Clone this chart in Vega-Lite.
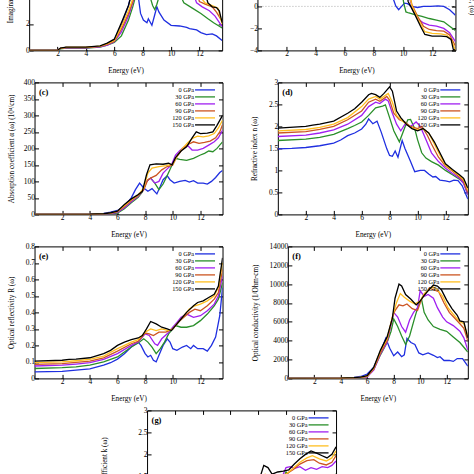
{
  "$schema": "https://vega.github.io/schema/vega-lite/v6.json",
  "background": "white",
  "padding": {"top": -86.6, "left": 4.8, "right": 0, "bottom": 0},
  "datasets": {
    "a": [
      {"s":0,"E":0,"v":0},{"s":0,"E":2,"v":0},{"s":0,"E":2.2,"v":0.15},{"s":0,"E":2.6,"v":0.2},{"s":0,"E":4,"v":0.2},{"s":0,"E":5,"v":0.3},{"s":0,"E":5.5,"v":0.5},{"s":0,"E":6,"v":0.8},{"s":0,"E":6.5,"v":1.9},{"s":0,"E":7,"v":3.4},{"s":0,"E":7.3,"v":4.8},{"s":0,"E":7.5,"v":5.2},{"s":0,"E":7.7,"v":4.0},{"s":0,"E":7.85,"v":2.8},{"s":0,"E":8.05,"v":2.3},{"s":0,"E":8.3,"v":2.1},{"s":0,"E":8.4,"v":2.4},{"s":0,"E":8.65,"v":1.9},{"s":0,"E":8.85,"v":2.7},{"s":0,"E":9.0,"v":3.3},{"s":0,"E":9.15,"v":2.9},{"s":0,"E":9.5,"v":2.3},{"s":0,"E":10,"v":1.9},{"s":0,"E":10.6,"v":1.85},{"s":0,"E":11.1,"v":1.75},{"s":0,"E":11.3,"v":1.65},{"s":0,"E":11.8,"v":1.55},{"s":0,"E":12.1,"v":1.35},{"s":0,"E":12.5,"v":1.2},{"s":0,"E":12.9,"v":1.25},{"s":0,"E":13.2,"v":1.1},{"s":0,"E":13.6,"v":0.75},
      {"s":30,"E":0,"v":0},{"s":30,"E":2,"v":0},{"s":30,"E":2.2,"v":0.12},{"s":30,"E":2.6,"v":0.18},{"s":30,"E":4,"v":0.18},{"s":30,"E":5,"v":0.25},{"s":30,"E":5.5,"v":0.4},{"s":30,"E":6,"v":0.6},{"s":30,"E":6.5,"v":1.1},{"s":30,"E":7,"v":2.3},{"s":30,"E":7.3,"v":3.3},{"s":30,"E":7.6,"v":4.5},{"s":30,"E":8,"v":5.5},{"s":30,"E":8.4,"v":4.5},{"s":30,"E":8.7,"v":3.4},{"s":30,"E":8.85,"v":3.1},{"s":30,"E":9.0,"v":3.5},{"s":30,"E":9.3,"v":4.6},{"s":30,"E":9.8,"v":5.8},{"s":30,"E":10.1,"v":6.0},{"s":30,"E":10.4,"v":4.8},{"s":30,"E":10.9,"v":3.6},{"s":30,"E":11.5,"v":3.2},{"s":30,"E":12.1,"v":2.8},{"s":30,"E":12.6,"v":2.4},{"s":30,"E":13,"v":2.1},{"s":30,"E":13.6,"v":1.7},
      {"s":60,"E":0,"v":0},{"s":60,"E":2,"v":0},{"s":60,"E":2.2,"v":0.15},{"s":60,"E":2.6,"v":0.2},{"s":60,"E":4,"v":0.2},{"s":60,"E":5,"v":0.27},{"s":60,"E":5.5,"v":0.4},{"s":60,"E":6,"v":0.65},{"s":60,"E":6.5,"v":1.4},{"s":60,"E":7,"v":2.6},{"s":60,"E":7.3,"v":3.6},{"s":60,"E":7.7,"v":5},{"s":60,"E":8.1,"v":6.5},{"s":60,"E":8.6,"v":5.5},{"s":60,"E":9,"v":5.2},{"s":60,"E":9.5,"v":6.2},{"s":60,"E":10,"v":7.5},{"s":60,"E":10.5,"v":7.2},{"s":60,"E":11,"v":6.5},{"s":60,"E":11.5,"v":4.5},{"s":60,"E":11.8,"v":3.6},{"s":60,"E":12.2,"v":3.3},{"s":60,"E":12.7,"v":3.0},{"s":60,"E":13.1,"v":2.6},{"s":60,"E":13.6,"v":1.8},
      {"s":90,"E":0,"v":0},{"s":90,"E":2,"v":0},{"s":90,"E":2.2,"v":0.15},{"s":90,"E":2.6,"v":0.22},{"s":90,"E":4,"v":0.22},{"s":90,"E":5,"v":0.3},{"s":90,"E":5.5,"v":0.45},{"s":90,"E":6,"v":0.7},{"s":90,"E":6.5,"v":1.6},{"s":90,"E":7,"v":2.8},{"s":90,"E":7.3,"v":3.7},{"s":90,"E":8,"v":6},{"s":90,"E":8.5,"v":6.8},{"s":90,"E":9,"v":6.5},{"s":90,"E":9.5,"v":6.3},{"s":90,"E":10,"v":7},{"s":90,"E":10.5,"v":7.6},{"s":90,"E":11,"v":7.0},{"s":90,"E":11.5,"v":5.5},{"s":90,"E":12,"v":3.7},{"s":90,"E":12.4,"v":3.5},{"s":90,"E":12.9,"v":3.3},{"s":90,"E":13.2,"v":2.9},{"s":90,"E":13.6,"v":2.2},
      {"s":120,"E":0,"v":0},{"s":120,"E":2,"v":0},{"s":120,"E":2.2,"v":0.16},{"s":120,"E":2.6,"v":0.23},{"s":120,"E":4,"v":0.23},{"s":120,"E":5,"v":0.32},{"s":120,"E":5.5,"v":0.5},{"s":120,"E":6,"v":0.75},{"s":120,"E":6.5,"v":1.8},{"s":120,"E":7,"v":3.0},{"s":120,"E":7.3,"v":3.9},{"s":120,"E":8,"v":6.5},{"s":120,"E":8.5,"v":7.5},{"s":120,"E":9,"v":7.0},{"s":120,"E":9.5,"v":6.5},{"s":120,"E":10,"v":6.8},{"s":120,"E":10.5,"v":7.5},{"s":120,"E":11,"v":7.5},{"s":120,"E":11.5,"v":6.5},{"s":120,"E":12.1,"v":4.0},{"s":120,"E":12.4,"v":3.6},{"s":120,"E":12.9,"v":3.4},{"s":120,"E":13.3,"v":3.2},{"s":120,"E":13.6,"v":2.0},
      {"s":150,"E":0,"v":0},{"s":150,"E":2,"v":0},{"s":150,"E":2.2,"v":0.18},{"s":150,"E":2.6,"v":0.25},{"s":150,"E":4,"v":0.25},{"s":150,"E":5,"v":0.35},{"s":150,"E":5.5,"v":0.55},{"s":150,"E":6,"v":0.85},{"s":150,"E":6.5,"v":2.1},{"s":150,"E":7,"v":3.4},{"s":150,"E":7.2,"v":4.2},{"s":150,"E":8,"v":7},{"s":150,"E":8.4,"v":8.3},{"s":150,"E":9,"v":7.5},{"s":150,"E":9.5,"v":6.8},{"s":150,"E":10,"v":6.8},{"s":150,"E":10.5,"v":7.3},{"s":150,"E":11,"v":7.8},{"s":150,"E":11.5,"v":7.2},{"s":150,"E":12.2,"v":5.0},{"s":150,"E":12.6,"v":3.6},{"s":150,"E":12.9,"v":3.3},{"s":150,"E":13.2,"v":3.25},{"s":150,"E":13.4,"v":3.0},{"s":150,"E":13.6,"v":2.1}
    ],
    "b": [
      {"s":0,"E":0,"v":2.2},{"s":0,"E":3,"v":2.4},{"s":0,"E":5,"v":3.0},{"s":0,"E":6,"v":3.6},{"s":0,"E":6.5,"v":4.4},{"s":0,"E":7,"v":4.0},{"s":0,"E":7.4,"v":3.0},{"s":0,"E":7.8,"v":1.5},{"s":0,"E":8.1,"v":0.9},{"s":0,"E":8.4,"v":1.4},{"s":0,"E":8.7,"v":1.0},{"s":0,"E":9,"v":2.0},{"s":0,"E":9.3,"v":0.8},{"s":0,"E":9.5,"v":0.05},{"s":0,"E":9.7,"v":-0.3},{"s":0,"E":9.9,"v":0},{"s":0,"E":10.1,"v":0.3},{"s":0,"E":10.3,"v":0.25},{"s":0,"E":10.6,"v":0},{"s":0,"E":11,"v":-0.1},{"s":0,"E":11.4,"v":0.0},{"s":0,"E":11.9,"v":0},{"s":0,"E":12.4,"v":0.05},{"s":0,"E":12.8,"v":0},{"s":0,"E":13.2,"v":-0.3},{"s":0,"E":13.6,"v":-0.8},
      {"s":30,"E":0,"v":2.8},{"s":30,"E":3,"v":3.0},{"s":30,"E":5,"v":3.8},{"s":30,"E":6,"v":4.5},{"s":30,"E":7,"v":5.8},{"s":30,"E":7.6,"v":6.2},{"s":30,"E":8,"v":4.5},{"s":30,"E":8.5,"v":2.5},{"s":30,"E":8.8,"v":3.0},{"s":30,"E":9.2,"v":4.6},{"s":30,"E":9.6,"v":4.0},{"s":30,"E":9.9,"v":1.5},{"s":30,"E":10.05,"v":0.3},{"s":30,"E":10.2,"v":-0.5},{"s":30,"E":10.4,"v":-0.6},{"s":30,"E":10.8,"v":-0.75},{"s":30,"E":11.3,"v":-0.9},{"s":30,"E":11.8,"v":-1.1},{"s":30,"E":12.3,"v":-1.25},{"s":30,"E":12.8,"v":-1.4},{"s":30,"E":13.2,"v":-1.8},{"s":30,"E":13.6,"v":-2.2},
      {"s":60,"E":0,"v":3.1},{"s":60,"E":3,"v":3.3},{"s":60,"E":5,"v":4.2},{"s":60,"E":6,"v":5.1},{"s":60,"E":7,"v":6.4},{"s":60,"E":7.7,"v":6.8},{"s":60,"E":8.2,"v":5.0},{"s":60,"E":8.8,"v":3.4},{"s":60,"E":9.3,"v":3.8},{"s":60,"E":9.9,"v":4.2},{"s":60,"E":10.2,"v":3.0},{"s":60,"E":10.5,"v":0.5},{"s":60,"E":10.7,"v":-0.4},{"s":60,"E":11,"v":-1.1},{"s":60,"E":11.4,"v":-1.5},{"s":60,"E":11.8,"v":-1.7},{"s":60,"E":12.3,"v":-1.8},{"s":60,"E":12.8,"v":-2.0},{"s":60,"E":13.2,"v":-2.4},{"s":60,"E":13.6,"v":-3.2},
      {"s":90,"E":0,"v":3.4},{"s":90,"E":3,"v":3.6},{"s":90,"E":5,"v":4.6},{"s":90,"E":6,"v":5.5},{"s":90,"E":7,"v":6.9},{"s":90,"E":7.8,"v":7.2},{"s":90,"E":8.3,"v":5.5},{"s":90,"E":8.8,"v":4.5},{"s":90,"E":9.5,"v":4.0},{"s":90,"E":10.2,"v":3.6},{"s":90,"E":10.4,"v":1.5},{"s":90,"E":10.6,"v":0.2},{"s":90,"E":11.0,"v":-0.9},{"s":90,"E":11.4,"v":-1.8},{"s":90,"E":11.8,"v":-2.1},{"s":90,"E":12.3,"v":-2.2},{"s":90,"E":12.8,"v":-2.25},{"s":90,"E":13.2,"v":-2.6},{"s":90,"E":13.6,"v":-3.6},
      {"s":120,"E":0,"v":3.6},{"s":120,"E":3,"v":3.8},{"s":120,"E":5,"v":4.9},{"s":120,"E":6,"v":6.0},{"s":120,"E":7,"v":7.2},{"s":120,"E":7.9,"v":7.6},{"s":120,"E":8.4,"v":5.5},{"s":120,"E":9,"v":4.4},{"s":120,"E":9.6,"v":3.9},{"s":120,"E":10.2,"v":3.6},{"s":120,"E":10.4,"v":1.4},{"s":120,"E":10.6,"v":0.1},{"s":120,"E":11.0,"v":-1.1},{"s":120,"E":11.5,"v":-2.3},{"s":120,"E":12,"v":-2.45},{"s":120,"E":12.6,"v":-2.5},{"s":120,"E":13.0,"v":-2.6},{"s":120,"E":13.3,"v":-3.0},{"s":120,"E":13.6,"v":-4.0},
      {"s":150,"E":0,"v":3.85},{"s":150,"E":3,"v":4.1},{"s":150,"E":5,"v":5.3},{"s":150,"E":6,"v":6.5},{"s":150,"E":6.7,"v":7.5},{"s":150,"E":7.2,"v":7.2},{"s":150,"E":8,"v":8.0},{"s":150,"E":8.5,"v":5.5},{"s":150,"E":9,"v":4.8},{"s":150,"E":9.6,"v":3.8},{"s":150,"E":10.1,"v":3.2},{"s":150,"E":10.35,"v":0.45},{"s":150,"E":10.8,"v":-0.7},{"s":150,"E":11.2,"v":-1.8},{"s":150,"E":11.5,"v":-2.55},{"s":150,"E":12.0,"v":-2.7},{"s":150,"E":12.6,"v":-2.7},{"s":150,"E":13.0,"v":-2.75},{"s":150,"E":13.3,"v":-3.0},{"s":150,"E":13.45,"v":-3.9},{"s":150,"E":13.6,"v":-4.0}
    ],
    "c": [
      {"s":0,"E":0,"v":0},{"s":0,"E":4,"v":0.5},{"s":0,"E":5,"v":3},{"s":0,"E":5.5,"v":7},{"s":0,"E":6,"v":12},{"s":0,"E":6.5,"v":25},{"s":0,"E":7,"v":50},{"s":0,"E":7.3,"v":75},{"s":0,"E":7.6,"v":95},{"s":0,"E":7.9,"v":80},{"s":0,"E":8.2,"v":70},{"s":0,"E":8.5,"v":78},{"s":0,"E":8.85,"v":62},{"s":0,"E":9.1,"v":85},{"s":0,"E":9.3,"v":105},{"s":0,"E":9.6,"v":117},{"s":0,"E":9.8,"v":105},{"s":0,"E":10.1,"v":95},{"s":0,"E":10.5,"v":100},{"s":0,"E":10.9,"v":103},{"s":0,"E":11.2,"v":98},{"s":0,"E":11.5,"v":102},{"s":0,"E":11.8,"v":95},{"s":0,"E":12.2,"v":95},{"s":0,"E":12.5,"v":92},{"s":0,"E":12.8,"v":100},{"s":0,"E":13.1,"v":112},{"s":0,"E":13.4,"v":127},{"s":0,"E":13.6,"v":133},
      {"s":30,"E":0,"v":0},{"s":30,"E":4,"v":0.2},{"s":30,"E":5,"v":1},{"s":30,"E":5.5,"v":2},{"s":30,"E":6,"v":4},{"s":30,"E":6.5,"v":17},{"s":30,"E":7,"v":35},{"s":30,"E":7.5,"v":52},{"s":30,"E":7.8,"v":68},{"s":30,"E":8.1,"v":100},{"s":30,"E":8.4,"v":110},{"s":30,"E":8.7,"v":95},{"s":30,"E":9.0,"v":75},{"s":30,"E":9.3,"v":92},{"s":30,"E":9.6,"v":118},{"s":30,"E":9.9,"v":145},{"s":30,"E":10.2,"v":170},{"s":30,"E":10.5,"v":167},{"s":30,"E":11,"v":164},{"s":30,"E":11.5,"v":170},{"s":30,"E":12,"v":180},{"s":30,"E":12.3,"v":185},{"s":30,"E":12.6,"v":192},{"s":30,"E":12.9,"v":190},{"s":30,"E":13.2,"v":200},{"s":30,"E":13.6,"v":220},
      {"s":60,"E":0,"v":0},{"s":60,"E":4,"v":0.2},{"s":60,"E":5,"v":1},{"s":60,"E":5.5,"v":2},{"s":60,"E":6,"v":6},{"s":60,"E":6.5,"v":20},{"s":60,"E":7,"v":38},{"s":60,"E":7.5,"v":55},{"s":60,"E":7.9,"v":75},{"s":60,"E":8.1,"v":100},{"s":60,"E":8.4,"v":110},{"s":60,"E":8.7,"v":95},{"s":60,"E":9.0,"v":100},{"s":60,"E":9.3,"v":125},{"s":60,"E":9.6,"v":138},{"s":60,"E":9.9,"v":150},{"s":60,"E":10.2,"v":180},{"s":60,"E":10.5,"v":193},{"s":60,"E":10.8,"v":203},{"s":60,"E":11.1,"v":208},{"s":60,"E":11.4,"v":195},{"s":60,"E":11.8,"v":195},{"s":60,"E":12.2,"v":200},{"s":60,"E":12.6,"v":210},{"s":60,"E":13,"v":220},{"s":60,"E":13.3,"v":232},{"s":60,"E":13.6,"v":255},
      {"s":90,"E":0,"v":0},{"s":90,"E":4,"v":0.3},{"s":90,"E":5,"v":1.5},{"s":90,"E":5.5,"v":3},{"s":90,"E":6,"v":8},{"s":90,"E":6.5,"v":24},{"s":90,"E":7,"v":42},{"s":90,"E":7.5,"v":57},{"s":90,"E":7.9,"v":75},{"s":90,"E":8.2,"v":105},{"s":90,"E":8.5,"v":112},{"s":90,"E":8.8,"v":118},{"s":90,"E":9.2,"v":135},{"s":90,"E":9.6,"v":145},{"s":90,"E":10,"v":150},{"s":90,"E":10.3,"v":175},{"s":90,"E":10.7,"v":198},{"s":90,"E":11.1,"v":212},{"s":90,"E":11.5,"v":220},{"s":90,"E":11.9,"v":215},{"s":90,"E":12.3,"v":218},{"s":90,"E":12.7,"v":222},{"s":90,"E":13.1,"v":232},{"s":90,"E":13.4,"v":250},{"s":90,"E":13.6,"v":272},
      {"s":120,"E":0,"v":0},{"s":120,"E":4,"v":0.3},{"s":120,"E":5,"v":2},{"s":120,"E":5.5,"v":4},{"s":120,"E":6,"v":9},{"s":120,"E":6.5,"v":26},{"s":120,"E":7,"v":44},{"s":120,"E":7.5,"v":58},{"s":120,"E":7.9,"v":80},{"s":120,"E":8.2,"v":125},{"s":120,"E":8.5,"v":140},{"s":120,"E":9,"v":145},{"s":120,"E":9.5,"v":148},{"s":120,"E":10,"v":152},{"s":120,"E":10.3,"v":175},{"s":120,"E":10.7,"v":200},{"s":120,"E":11.1,"v":218},{"s":120,"E":11.5,"v":232},{"s":120,"E":11.8,"v":237},{"s":120,"E":12.2,"v":235},{"s":120,"E":12.6,"v":238},{"s":120,"E":13,"v":245},{"s":120,"E":13.3,"v":262},{"s":120,"E":13.6,"v":285},
      {"s":150,"E":0,"v":0},{"s":150,"E":4,"v":0.5},{"s":150,"E":5,"v":2},{"s":150,"E":5.5,"v":5},{"s":150,"E":6,"v":10},{"s":150,"E":6.5,"v":30},{"s":150,"E":7,"v":47},{"s":150,"E":7.5,"v":60},{"s":150,"E":7.8,"v":70},{"s":150,"E":8.1,"v":120},{"s":150,"E":8.35,"v":150},{"s":150,"E":8.8,"v":153},{"s":150,"E":9.3,"v":152},{"s":150,"E":9.7,"v":155},{"s":150,"E":9.95,"v":150},{"s":150,"E":10.2,"v":172},{"s":150,"E":10.6,"v":192},{"s":150,"E":11,"v":205},{"s":150,"E":11.4,"v":232},{"s":150,"E":11.7,"v":250},{"s":150,"E":12,"v":245},{"s":150,"E":12.5,"v":246},{"s":150,"E":12.9,"v":250},{"s":150,"E":13.2,"v":270},{"s":150,"E":13.6,"v":300}
    ],
    "d": [
      {"s":0,"E":0,"v":1.49},{"s":0,"E":1,"v":1.5},{"s":0,"E":2,"v":1.52},{"s":0,"E":3,"v":1.56},{"s":0,"E":4,"v":1.62},{"s":0,"E":4.5,"v":1.69},{"s":0,"E":5,"v":1.79},{"s":0,"E":5.5,"v":1.85},{"s":0,"E":6,"v":1.94},{"s":0,"E":6.3,"v":2.05},{"s":0,"E":6.5,"v":2.17},{"s":0,"E":6.8,"v":2.06},{"s":0,"E":7.1,"v":2.12},{"s":0,"E":7.4,"v":1.87},{"s":0,"E":7.8,"v":1.49},{"s":0,"E":8,"v":1.34},{"s":0,"E":8.2,"v":1.32},{"s":0,"E":8.4,"v":1.44},{"s":0,"E":8.6,"v":1.3},{"s":0,"E":8.9,"v":1.68},{"s":0,"E":9.1,"v":1.5},{"s":0,"E":9.5,"v":1.2},{"s":0,"E":9.8,"v":0.97},{"s":0,"E":10.2,"v":1.0},{"s":0,"E":10.5,"v":1.0},{"s":0,"E":10.8,"v":0.92},{"s":0,"E":11.1,"v":0.85},{"s":0,"E":11.3,"v":0.86},{"s":0,"E":11.6,"v":0.78},{"s":0,"E":12,"v":0.76},{"s":0,"E":12.3,"v":0.74},{"s":0,"E":12.6,"v":0.78},{"s":0,"E":12.9,"v":0.77},{"s":0,"E":13.2,"v":0.65},{"s":0,"E":13.6,"v":0.35},
      {"s":30,"E":0,"v":1.68},{"s":30,"E":2,"v":1.71},{"s":30,"E":3,"v":1.75},{"s":30,"E":4,"v":1.82},{"s":30,"E":5,"v":1.95},{"s":30,"E":5.5,"v":2.02},{"s":30,"E":6,"v":2.1},{"s":30,"E":6.5,"v":2.25},{"s":30,"E":7,"v":2.42},{"s":30,"E":7.5,"v":2.46},{"s":30,"E":7.7,"v":2.49},{"s":30,"E":8,"v":2.2},{"s":30,"E":8.3,"v":1.9},{"s":30,"E":8.7,"v":1.65},{"s":30,"E":9,"v":1.9},{"s":30,"E":9.3,"v":2.15},{"s":30,"E":9.5,"v":2.16},{"s":30,"E":9.8,"v":1.95},{"s":30,"E":10,"v":1.7},{"s":30,"E":10.3,"v":1.4},{"s":30,"E":10.6,"v":1.28},{"s":30,"E":11,"v":1.2},{"s":30,"E":11.5,"v":1.12},{"s":30,"E":12,"v":1.0},{"s":30,"E":12.5,"v":0.9},{"s":30,"E":13,"v":0.8},{"s":30,"E":13.3,"v":0.72},{"s":30,"E":13.6,"v":0.45},
      {"s":60,"E":0,"v":1.77},{"s":60,"E":2,"v":1.8},{"s":60,"E":3,"v":1.85},{"s":60,"E":4,"v":1.92},{"s":60,"E":5,"v":2.05},{"s":60,"E":6,"v":2.25},{"s":60,"E":6.5,"v":2.45},{"s":60,"E":7,"v":2.55},{"s":60,"E":7.3,"v":2.52},{"s":60,"E":7.7,"v":2.62},{"s":60,"E":7.9,"v":2.58},{"s":60,"E":8.2,"v":2.3},{"s":60,"E":8.5,"v":2.05},{"s":60,"E":8.8,"v":1.9},{"s":60,"E":9.1,"v":2.05},{"s":60,"E":9.5,"v":2.0},{"s":60,"E":9.9,"v":2.1},{"s":60,"E":10.2,"v":2.0},{"s":60,"E":10.6,"v":1.7},{"s":60,"E":11,"v":1.4},{"s":60,"E":11.5,"v":1.2},{"s":60,"E":12,"v":1.05},{"s":60,"E":12.5,"v":0.93},{"s":60,"E":13,"v":0.82},{"s":60,"E":13.3,"v":0.7},{"s":60,"E":13.6,"v":0.45},
      {"s":90,"E":0,"v":1.85},{"s":90,"E":2,"v":1.88},{"s":90,"E":3,"v":1.93},{"s":90,"E":4,"v":2.0},{"s":90,"E":5,"v":2.15},{"s":90,"E":6,"v":2.35},{"s":90,"E":6.5,"v":2.55},{"s":90,"E":7,"v":2.62},{"s":90,"E":7.3,"v":2.57},{"s":90,"E":7.8,"v":2.68},{"s":90,"E":8,"v":2.6},{"s":90,"E":8.3,"v":2.3},{"s":90,"E":8.7,"v":2.15},{"s":90,"E":9.1,"v":2.1},{"s":90,"E":9.5,"v":2.0},{"s":90,"E":10,"v":1.95},{"s":90,"E":10.3,"v":2.0},{"s":90,"E":10.7,"v":1.8},{"s":90,"E":11,"v":1.6},{"s":90,"E":11.5,"v":1.3},{"s":90,"E":12,"v":1.1},{"s":90,"E":12.5,"v":0.98},{"s":90,"E":13,"v":0.85},{"s":90,"E":13.3,"v":0.75},{"s":90,"E":13.6,"v":0.5},
      {"s":120,"E":0,"v":1.9},{"s":120,"E":2,"v":1.93},{"s":120,"E":3,"v":1.98},{"s":120,"E":4,"v":2.05},{"s":120,"E":5,"v":2.2},{"s":120,"E":6,"v":2.45},{"s":120,"E":6.5,"v":2.62},{"s":120,"E":7,"v":2.68},{"s":120,"E":7.3,"v":2.62},{"s":120,"E":7.9,"v":2.75},{"s":120,"E":8.2,"v":2.55},{"s":120,"E":8.5,"v":2.25},{"s":120,"E":9,"v":2.1},{"s":120,"E":9.5,"v":1.98},{"s":120,"E":10,"v":1.92},{"s":120,"E":10.4,"v":1.95},{"s":120,"E":10.8,"v":1.85},{"s":120,"E":11.2,"v":1.6},{"s":120,"E":11.6,"v":1.35},{"s":120,"E":12,"v":1.12},{"s":120,"E":12.5,"v":1.0},{"s":120,"E":13,"v":0.88},{"s":120,"E":13.3,"v":0.8},{"s":120,"E":13.6,"v":0.55},
      {"s":150,"E":0,"v":1.96},{"s":150,"E":2,"v":2.0},{"s":150,"E":2.5,"v":2.03},{"s":150,"E":3,"v":2.05},{"s":150,"E":4,"v":2.12},{"s":150,"E":5,"v":2.3},{"s":150,"E":5.5,"v":2.4},{"s":150,"E":6,"v":2.55},{"s":150,"E":6.5,"v":2.72},{"s":150,"E":6.7,"v":2.75},{"s":150,"E":7,"v":2.72},{"s":150,"E":7.3,"v":2.66},{"s":150,"E":7.6,"v":2.75},{"s":150,"E":8,"v":2.9},{"s":150,"E":8.2,"v":2.8},{"s":150,"E":8.5,"v":2.35},{"s":150,"E":8.8,"v":2.2},{"s":150,"E":9.2,"v":2.05},{"s":150,"E":9.6,"v":1.95},{"s":150,"E":10,"v":1.9},{"s":150,"E":10.4,"v":1.95},{"s":150,"E":10.8,"v":1.85},{"s":150,"E":11.2,"v":1.65},{"s":150,"E":11.6,"v":1.4},{"s":150,"E":12,"v":1.15},{"s":150,"E":12.5,"v":1.02},{"s":150,"E":13,"v":0.9},{"s":150,"E":13.3,"v":0.82},{"s":150,"E":13.6,"v":0.6}
    ],
    "e": [
      {"s":0,"E":0,"v":0.04},{"s":0,"E":2,"v":0.043},{"s":0,"E":3,"v":0.05},{"s":0,"E":4,"v":0.058},{"s":0,"E":5,"v":0.08},{"s":0,"E":5.5,"v":0.095},{"s":0,"E":6,"v":0.117},{"s":0,"E":6.5,"v":0.15},{"s":0,"E":7,"v":0.19},{"s":0,"E":7.5,"v":0.22},{"s":0,"E":7.7,"v":0.2},{"s":0,"E":8,"v":0.15},{"s":0,"E":8.2,"v":0.13},{"s":0,"E":8.4,"v":0.14},{"s":0,"E":8.6,"v":0.11},{"s":0,"E":8.8,"v":0.1},{"s":0,"E":9,"v":0.14},{"s":0,"E":9.3,"v":0.2},{"s":0,"E":9.6,"v":0.24},{"s":0,"E":9.8,"v":0.22},{"s":0,"E":10,"v":0.18},{"s":0,"E":10.3,"v":0.17},{"s":0,"E":10.7,"v":0.19},{"s":0,"E":11,"v":0.2},{"s":0,"E":11.3,"v":0.18},{"s":0,"E":11.5,"v":0.2},{"s":0,"E":11.8,"v":0.18},{"s":0,"E":12.2,"v":0.18},{"s":0,"E":12.5,"v":0.165},{"s":0,"E":12.8,"v":0.2},{"s":0,"E":13.1,"v":0.25},{"s":0,"E":13.4,"v":0.38},{"s":0,"E":13.6,"v":0.55},
      {"s":30,"E":0,"v":0.06},{"s":30,"E":2,"v":0.065},{"s":30,"E":3,"v":0.07},{"s":30,"E":4,"v":0.08},{"s":30,"E":5,"v":0.1},{"s":30,"E":6,"v":0.13},{"s":30,"E":6.5,"v":0.16},{"s":30,"E":7,"v":0.19},{"s":30,"E":7.5,"v":0.215},{"s":30,"E":7.9,"v":0.24},{"s":30,"E":8.2,"v":0.22},{"s":30,"E":8.5,"v":0.19},{"s":30,"E":8.8,"v":0.15},{"s":30,"E":9.1,"v":0.18},{"s":30,"E":9.4,"v":0.22},{"s":30,"E":9.7,"v":0.27},{"s":30,"E":10,"v":0.3},{"s":30,"E":10.2,"v":0.32},{"s":30,"E":10.6,"v":0.31},{"s":30,"E":11,"v":0.31},{"s":30,"E":11.5,"v":0.32},{"s":30,"E":12,"v":0.35},{"s":30,"E":12.5,"v":0.39},{"s":30,"E":13,"v":0.44},{"s":30,"E":13.3,"v":0.48},{"s":30,"E":13.6,"v":0.58},
      {"s":60,"E":0,"v":0.075},{"s":60,"E":2,"v":0.08},{"s":60,"E":3,"v":0.087},{"s":60,"E":4,"v":0.095},{"s":60,"E":5,"v":0.115},{"s":60,"E":6,"v":0.15},{"s":60,"E":7,"v":0.2},{"s":60,"E":7.5,"v":0.22},{"s":60,"E":8,"v":0.27},{"s":60,"E":8.3,"v":0.26},{"s":60,"E":8.7,"v":0.21},{"s":60,"E":8.9,"v":0.2},{"s":60,"E":9.2,"v":0.24},{"s":60,"E":9.6,"v":0.27},{"s":60,"E":10,"v":0.31},{"s":60,"E":10.3,"v":0.34},{"s":60,"E":10.6,"v":0.37},{"s":60,"E":11,"v":0.39},{"s":60,"E":11.5,"v":0.37},{"s":60,"E":12,"v":0.38},{"s":60,"E":12.5,"v":0.41},{"s":60,"E":13,"v":0.45},{"s":60,"E":13.3,"v":0.5},{"s":60,"E":13.6,"v":0.62},
      {"s":90,"E":0,"v":0.085},{"s":90,"E":2,"v":0.09},{"s":90,"E":3,"v":0.097},{"s":90,"E":4,"v":0.105},{"s":90,"E":5,"v":0.125},{"s":90,"E":6,"v":0.165},{"s":90,"E":7,"v":0.21},{"s":90,"E":7.5,"v":0.225},{"s":90,"E":8,"v":0.275},{"s":90,"E":8.3,"v":0.27},{"s":90,"E":8.6,"v":0.26},{"s":90,"E":9,"v":0.28},{"s":90,"E":9.5,"v":0.28},{"s":90,"E":10,"v":0.3},{"s":90,"E":10.4,"v":0.34},{"s":90,"E":10.8,"v":0.37},{"s":90,"E":11.2,"v":0.4},{"s":90,"E":11.6,"v":0.42},{"s":90,"E":12,"v":0.41},{"s":90,"E":12.5,"v":0.44},{"s":90,"E":13,"v":0.48},{"s":90,"E":13.3,"v":0.52},{"s":90,"E":13.6,"v":0.66},
      {"s":120,"E":0,"v":0.095},{"s":120,"E":2,"v":0.1},{"s":120,"E":3,"v":0.107},{"s":120,"E":4,"v":0.115},{"s":120,"E":5,"v":0.135},{"s":120,"E":6,"v":0.18},{"s":120,"E":7,"v":0.22},{"s":120,"E":7.5,"v":0.235},{"s":120,"E":8,"v":0.28},{"s":120,"E":8.4,"v":0.3},{"s":120,"E":8.8,"v":0.29},{"s":120,"E":9.2,"v":0.3},{"s":120,"E":9.7,"v":0.29},{"s":120,"E":10,"v":0.3},{"s":120,"E":10.4,"v":0.34},{"s":120,"E":10.8,"v":0.38},{"s":120,"E":11.2,"v":0.42},{"s":120,"E":11.6,"v":0.44},{"s":120,"E":12,"v":0.45},{"s":120,"E":12.5,"v":0.47},{"s":120,"E":13,"v":0.5},{"s":120,"E":13.3,"v":0.55},{"s":120,"E":13.6,"v":0.7},
      {"s":150,"E":0,"v":0.105},{"s":150,"E":2,"v":0.11},{"s":150,"E":2.5,"v":0.115},{"s":150,"E":3,"v":0.117},{"s":150,"E":4,"v":0.125},{"s":150,"E":5,"v":0.15},{"s":150,"E":5.5,"v":0.17},{"s":150,"E":6,"v":0.2},{"s":150,"E":6.5,"v":0.22},{"s":150,"E":7,"v":0.235},{"s":150,"E":7.5,"v":0.245},{"s":150,"E":7.8,"v":0.26},{"s":150,"E":8.1,"v":0.3},{"s":150,"E":8.4,"v":0.345},{"s":150,"E":8.8,"v":0.33},{"s":150,"E":9.2,"v":0.31},{"s":150,"E":9.6,"v":0.3},{"s":150,"E":9.9,"v":0.29},{"s":150,"E":10.2,"v":0.32},{"s":150,"E":10.6,"v":0.36},{"s":150,"E":11,"v":0.4},{"s":150,"E":11.5,"v":0.44},{"s":150,"E":11.8,"v":0.46},{"s":150,"E":12.2,"v":0.47},{"s":150,"E":12.6,"v":0.49},{"s":150,"E":13,"v":0.51},{"s":150,"E":13.3,"v":0.56},{"s":150,"E":13.6,"v":0.73}
    ],
    "f": [
      {"s":0,"E":0,"v":0},{"s":0,"E":4,"v":20},{"s":0,"E":5,"v":100},{"s":0,"E":5.5,"v":200},{"s":0,"E":6,"v":460},{"s":0,"E":6.5,"v":1200},{"s":0,"E":7,"v":2800},{"s":0,"E":7.4,"v":4250},{"s":0,"E":7.7,"v":3200},{"s":0,"E":8,"v":2400},{"s":0,"E":8.3,"v":2800},{"s":0,"E":8.6,"v":2300},{"s":0,"E":8.8,"v":2500},{"s":0,"E":9,"v":4250},{"s":0,"E":9.3,"v":3800},{"s":0,"E":9.6,"v":3600},{"s":0,"E":9.9,"v":2700},{"s":0,"E":10.2,"v":2500},{"s":0,"E":10.6,"v":2700},{"s":0,"E":11,"v":2450},{"s":0,"E":11.3,"v":2200},{"s":0,"E":11.5,"v":2300},{"s":0,"E":11.8,"v":1900},{"s":0,"E":12.2,"v":1900},{"s":0,"E":12.5,"v":1800},{"s":0,"E":12.8,"v":2100},{"s":0,"E":13.2,"v":2100},{"s":0,"E":13.6,"v":1300},
      {"s":30,"E":0,"v":0},{"s":30,"E":4,"v":10},{"s":30,"E":5,"v":50},{"s":30,"E":5.5,"v":80},{"s":30,"E":6,"v":200},{"s":30,"E":6.5,"v":1000},{"s":30,"E":7,"v":2500},{"s":30,"E":7.5,"v":3800},{"s":30,"E":7.8,"v":5000},{"s":30,"E":8,"v":6300},{"s":30,"E":8.3,"v":5500},{"s":30,"E":8.6,"v":4500},{"s":30,"E":8.9,"v":3600},{"s":30,"E":9.2,"v":4500},{"s":30,"E":9.6,"v":6500},{"s":30,"E":9.9,"v":7900},{"s":30,"E":10.1,"v":8400},{"s":30,"E":10.3,"v":7000},{"s":30,"E":10.6,"v":6200},{"s":30,"E":11,"v":5500},{"s":30,"E":11.5,"v":5200},{"s":30,"E":12,"v":5000},{"s":30,"E":12.5,"v":4400},{"s":30,"E":13,"v":3800},{"s":30,"E":13.3,"v":3300},{"s":30,"E":13.6,"v":2800},
      {"s":60,"E":0,"v":0},{"s":60,"E":4,"v":10},{"s":60,"E":5,"v":50},{"s":60,"E":5.5,"v":80},{"s":60,"E":6,"v":150},{"s":60,"E":6.5,"v":900},{"s":60,"E":7,"v":2600},{"s":60,"E":7.5,"v":3800},{"s":60,"E":8,"v":7000},{"s":60,"E":8.3,"v":6500},{"s":60,"E":8.6,"v":5500},{"s":60,"E":8.9,"v":4900},{"s":60,"E":9.2,"v":6200},{"s":60,"E":9.5,"v":7000},{"s":60,"E":9.8,"v":7500},{"s":60,"E":10,"v":9300},{"s":60,"E":10.3,"v":8700},{"s":60,"E":10.6,"v":8900},{"s":60,"E":11,"v":8500},{"s":60,"E":11.3,"v":7500},{"s":60,"E":11.7,"v":6500},{"s":60,"E":12,"v":6000},{"s":60,"E":12.5,"v":5600},{"s":60,"E":13,"v":5000},{"s":60,"E":13.3,"v":4300},{"s":60,"E":13.6,"v":3000},
      {"s":90,"E":0,"v":0},{"s":90,"E":4,"v":15},{"s":90,"E":5,"v":60},{"s":90,"E":5.5,"v":100},{"s":90,"E":6,"v":200},{"s":90,"E":6.5,"v":1000},{"s":90,"E":7,"v":2700},{"s":90,"E":7.5,"v":4000},{"s":90,"E":7.9,"v":6500},{"s":90,"E":8.1,"v":7200},{"s":90,"E":8.4,"v":7800},{"s":90,"E":8.7,"v":7700},{"s":90,"E":9,"v":7900},{"s":90,"E":9.4,"v":7400},{"s":90,"E":9.8,"v":7200},{"s":90,"E":10.1,"v":8400},{"s":90,"E":10.4,"v":9000},{"s":90,"E":10.7,"v":9600},{"s":90,"E":11,"v":9400},{"s":90,"E":11.4,"v":9200},{"s":90,"E":11.8,"v":8000},{"s":90,"E":12.2,"v":7000},{"s":90,"E":12.6,"v":6400},{"s":90,"E":13,"v":5800},{"s":90,"E":13.3,"v":5300},{"s":90,"E":13.6,"v":4000},
      {"s":120,"E":0,"v":0},{"s":120,"E":4,"v":15},{"s":120,"E":5,"v":70},{"s":120,"E":5.5,"v":120},{"s":120,"E":6,"v":250},{"s":120,"E":6.5,"v":1100},{"s":120,"E":7,"v":2900},{"s":120,"E":7.5,"v":4200},{"s":120,"E":7.9,"v":6500},{"s":120,"E":8.2,"v":8000},{"s":120,"E":8.5,"v":9000},{"s":120,"E":8.8,"v":8600},{"s":120,"E":9.2,"v":8200},{"s":120,"E":9.6,"v":7900},{"s":120,"E":10,"v":8200},{"s":120,"E":10.3,"v":9000},{"s":120,"E":10.7,"v":9500},{"s":120,"E":11,"v":9700},{"s":120,"E":11.3,"v":9400},{"s":120,"E":11.7,"v":8700},{"s":120,"E":12.1,"v":7500},{"s":120,"E":12.5,"v":6800},{"s":120,"E":13,"v":6000},{"s":120,"E":13.3,"v":5800},{"s":120,"E":13.6,"v":4500},
      {"s":150,"E":0,"v":0},{"s":150,"E":4,"v":20},{"s":150,"E":5,"v":80},{"s":150,"E":5.5,"v":130},{"s":150,"E":6,"v":300},{"s":150,"E":6.5,"v":1200},{"s":150,"E":7,"v":3000},{"s":150,"E":7.5,"v":4400},{"s":150,"E":7.9,"v":6400},{"s":150,"E":8.1,"v":8500},{"s":150,"E":8.4,"v":10000},{"s":150,"E":8.6,"v":9800},{"s":150,"E":8.9,"v":8900},{"s":150,"E":9.3,"v":8400},{"s":150,"E":9.7,"v":7800},{"s":150,"E":10,"v":8200},{"s":150,"E":10.3,"v":8800},{"s":150,"E":10.6,"v":9300},{"s":150,"E":11,"v":9900},{"s":150,"E":11.3,"v":9800},{"s":150,"E":11.6,"v":9400},{"s":150,"E":12,"v":8300},{"s":150,"E":12.4,"v":7400},{"s":150,"E":12.8,"v":6700},{"s":150,"E":13,"v":6100},{"s":150,"E":13.3,"v":6000},{"s":150,"E":13.6,"v":4300}
    ],
    "g": [
      {"s":0,"E":0,"v":0},{"s":0,"E":2,"v":0},{"s":0,"E":4,"v":0.05},{"s":0,"E":5,"v":0.1},{"s":0,"E":6,"v":0.25},{"s":0,"E":6.5,"v":0.5},{"s":0,"E":7,"v":0.8},{"s":0,"E":7.5,"v":1.05},{"s":0,"E":7.8,"v":0.95},{"s":0,"E":8.2,"v":0.85},{"s":0,"E":8.5,"v":0.9},{"s":0,"E":8.9,"v":0.8},{"s":0,"E":9.2,"v":0.95},{"s":0,"E":9.6,"v":0.95},{"s":0,"E":10,"v":0.9},{"s":0,"E":11,"v":0.88},{"s":0,"E":12,"v":0.8},{"s":0,"E":13,"v":0.75},{"s":0,"E":13.6,"v":0.75},
      {"s":30,"E":0,"v":0},{"s":30,"E":2,"v":0},{"s":30,"E":4,"v":0.04},{"s":30,"E":5,"v":0.07},{"s":30,"E":6,"v":0.15},{"s":30,"E":6.5,"v":0.3},{"s":30,"E":7,"v":0.55},{"s":30,"E":7.5,"v":0.8},{"s":30,"E":8,"v":1.0},{"s":30,"E":8.5,"v":1.1},{"s":30,"E":8.8,"v":0.9},{"s":30,"E":9.2,"v":1.0},{"s":30,"E":9.6,"v":1.3},{"s":30,"E":10,"v":1.6},{"s":30,"E":10.3,"v":1.5},{"s":30,"E":10.8,"v":1.4},{"s":30,"E":11.5,"v":1.38},{"s":30,"E":12,"v":1.4},{"s":30,"E":12.5,"v":1.42},{"s":30,"E":13,"v":1.45},{"s":30,"E":13.6,"v":1.55},
      {"s":60,"E":0,"v":0},{"s":60,"E":2,"v":0},{"s":60,"E":4,"v":0.05},{"s":60,"E":5,"v":0.07},{"s":60,"E":6,"v":0.15},{"s":60,"E":6.5,"v":0.32},{"s":60,"E":7,"v":0.58},{"s":60,"E":7.5,"v":0.85},{"s":60,"E":8,"v":1.15},{"s":60,"E":8.4,"v":1.3},{"s":60,"E":8.8,"v":1.2},{"s":60,"E":9.2,"v":1.3},{"s":60,"E":9.6,"v":1.4},{"s":60,"E":10,"v":1.7},{"s":60,"E":10.3,"v":1.72},{"s":60,"E":10.6,"v":1.68},{"s":60,"E":11,"v":1.72},{"s":60,"E":11.4,"v":1.64},{"s":60,"E":11.8,"v":1.7},{"s":60,"E":12.2,"v":1.66},{"s":60,"E":12.6,"v":1.72},{"s":60,"E":13,"v":1.7},{"s":60,"E":13.3,"v":1.75},{"s":60,"E":13.6,"v":1.85},
      {"s":90,"E":0,"v":0},{"s":90,"E":2,"v":0},{"s":90,"E":4,"v":0.05},{"s":90,"E":5,"v":0.08},{"s":90,"E":6,"v":0.16},{"s":90,"E":6.5,"v":0.35},{"s":90,"E":7,"v":0.6},{"s":90,"E":7.5,"v":0.85},{"s":90,"E":8,"v":1.2},{"s":90,"E":8.5,"v":1.45},{"s":90,"E":9,"v":1.45},{"s":90,"E":9.5,"v":1.48},{"s":90,"E":10,"v":1.55},{"s":90,"E":10.5,"v":1.65},{"s":90,"E":11,"v":1.78},{"s":90,"E":11.5,"v":1.86},{"s":90,"E":12,"v":1.88},{"s":90,"E":12.4,"v":1.8},{"s":90,"E":12.9,"v":1.76},{"s":90,"E":13.3,"v":1.82},{"s":90,"E":13.6,"v":1.97},
      {"s":120,"E":0,"v":0},{"s":120,"E":2,"v":0},{"s":120,"E":2.5,"v":0.06},{"s":120,"E":4,"v":0.06},{"s":120,"E":5,"v":0.08},{"s":120,"E":6,"v":0.16},{"s":120,"E":6.5,"v":0.37},{"s":120,"E":7,"v":0.6},{"s":120,"E":7.5,"v":0.85},{"s":120,"E":8,"v":1.25},{"s":120,"E":8.5,"v":1.55},{"s":120,"E":9,"v":1.5},{"s":120,"E":9.5,"v":1.5},{"s":120,"E":10,"v":1.55},{"s":120,"E":10.5,"v":1.68},{"s":120,"E":11,"v":1.82},{"s":120,"E":11.5,"v":1.92},{"s":120,"E":11.9,"v":1.97},{"s":120,"E":12.4,"v":1.9},{"s":120,"E":12.9,"v":1.85},{"s":120,"E":13.3,"v":1.92},{"s":120,"E":13.6,"v":2.08},
      {"s":150,"E":0,"v":0},{"s":150,"E":2,"v":0},{"s":150,"E":2.5,"v":0.06},{"s":150,"E":4,"v":0.06},{"s":150,"E":5,"v":0.08},{"s":150,"E":6,"v":0.17},{"s":150,"E":6.5,"v":0.4},{"s":150,"E":7,"v":0.65},{"s":150,"E":7.5,"v":0.9},{"s":150,"E":8,"v":1.35},{"s":150,"E":8.4,"v":1.75},{"s":150,"E":8.7,"v":1.7},{"s":150,"E":9,"v":1.55},{"s":150,"E":9.4,"v":1.6},{"s":150,"E":9.8,"v":1.62},{"s":150,"E":10.2,"v":1.65},{"s":150,"E":10.6,"v":1.78},{"s":150,"E":11,"v":1.9},{"s":150,"E":11.4,"v":2.0},{"s":150,"E":11.8,"v":2.08},{"s":150,"E":12.2,"v":2.03},{"s":150,"E":12.6,"v":1.97},{"s":150,"E":12.95,"v":1.92},{"s":150,"E":13.3,"v":2.0},{"s":150,"E":13.6,"v":2.17}
    ]
  },
  "config": {
    "font": "Liberation Serif",
    "view": {"stroke": "#000", "strokeWidth": 1},
    "axis": {"grid": false, "domain": false, "tickSize": -4, "tickColor": "#000", "labelColor": "#000", "titleColor": "#000", "labelFont": "Liberation Serif", "titleFont": "Liberation Serif", "labelFontSize": 7.5, "titleFontSize": 7.2, "titleFontWeight": "normal"},
    "axisBottom": {"minExtent": 12, "maxExtent": 12, "labelPadding": 3},
    "axisLeft": {"labelPadding": 4},
    "axisTop": {"labels": false, "minExtent": 0, "maxExtent": 0},
    "axisRight": {"labels": false, "minExtent": 0, "maxExtent": 0},
    "legend": {"orient": "top-right", "offset": 4, "padding": 0, "symbolType": "M-4,0H4", "symbolSize": 25, "symbolStrokeWidth": 1.5, "labelFont": "Liberation Serif", "labelFontSize": 6.3, "labelColor": "#000", "labelAlign": "right", "labelOffset": -14.5, "rowPadding": -1.5},
    "line": {"strokeWidth": 1.3}
  },
  "vconcat": [
    {
      "hconcat": [
        {
          "width": 193, "height": 132, "data": {"name": "a"},
          "layer": [
            {
              "mark": {"type": "line", "clip": true},
              "encoding": {
                "x": {"field": "E", "type": "quantitative", "scale": {"domain": [0, 13.6], "nice": false}, "axis": {"values": [2, 4, 6, 8, 10, 12], "title": "Energy (eV)"}},
                "y": {"field": "v", "type": "quantitative", "scale": {"domain": [0, 10], "nice": false}, "axis": {"values": [0, 2, 4, 6, 8, 10], "title": "Imaginary dielectric ε₂ (ω)", "minExtent": 11, "maxExtent": 11}},
                "color": {"field": "s", "type": "nominal", "scale": {"domain": [0, 30, 60, 90, 120, 150], "range": ["#1f2fe0", "#2a8f2a", "#a020f0", "#cc5522", "#ffbf20", "#000000"]}, "legend": {"title": null, "labelExpr": "datum.label + ' GPa'"}}
              }
            },
            {
              "mark": {"type": "point", "opacity": 0},
              "encoding": {
                "x": {"field": "E", "type": "quantitative", "scale": {"domain": [0, 13.6], "nice": false}, "axis": {"orient": "top", "values": [2, 4, 6, 8, 10, 12], "title": "(a)", "titleX": 4, "titleY": 5.5, "titleAlign": "left", "titleBaseline": "top", "titleAngle": 0, "titleFontWeight": "bold", "titleFontSize": 8.5}},
                "y": {"field": "v", "type": "quantitative", "scale": {"domain": [0, 10], "nice": false}, "axis": {"orient": "right", "values": [0, 2, 4, 6, 8, 10], "title": null}}
              }
            }
          ],
          "resolve": {"axis": {"x": "independent", "y": "independent"}}
        },
        {
          "width": 198, "height": 132, "data": {"name": "b"},
          "layer": [
            {"data": {"values": [{}]}, "mark": {"type": "rule", "strokeDash": [1, 2], "color": "#999", "strokeWidth": 0.8}, "encoding": {"y": {"datum": 0}}},
            {
              "mark": {"type": "line", "clip": true},
              "encoding": {
                "x": {"field": "E", "type": "quantitative", "scale": {"domain": [0, 13.6], "nice": false}, "axis": {"values": [2, 4, 6, 8, 10, 12], "title": "Energy (eV)"}},
                "y": {"field": "v", "type": "quantitative", "scale": {"domain": [-4, 8], "nice": false}, "axis": {"values": [-4, -2, 0, 2, 4, 6, 8], "title": "Real dielectric ε₁ (ω)", "minExtent": 8.5, "maxExtent": 8.5}},
                "color": {"field": "s", "type": "nominal", "scale": {"domain": [0, 30, 60, 90, 120, 150], "range": ["#1f2fe0", "#2a8f2a", "#a020f0", "#cc5522", "#ffbf20", "#000000"]}, "legend": {"title": null, "labelExpr": "datum.label + ' GPa'"}}
              }
            },
            {
              "mark": {"type": "point", "opacity": 0},
              "encoding": {
                "x": {"field": "E", "type": "quantitative", "scale": {"domain": [0, 13.6], "nice": false}, "axis": {"orient": "top", "values": [2, 4, 6, 8, 10, 12], "title": "(b)", "titleX": 4, "titleY": 5.5, "titleAlign": "left", "titleBaseline": "top", "titleAngle": 0, "titleFontWeight": "bold", "titleFontSize": 8.5}},
                "y": {"field": "v", "type": "quantitative", "scale": {"domain": [-4, 8], "nice": false}, "axis": {"orient": "right", "values": [-4, -2, 0, 2, 4, 6, 8], "title": null}}
              }
            }
          ],
          "resolve": {"axis": {"x": "independent", "y": "independent"}}
        }
      ],
      "spacing": 22.3,
      "resolve": {"scale": {"color": "independent"}, "legend": {"color": "independent"}}
    },
    {
      "hconcat": [
        {
          "width": 188, "height": 132, "data": {"name": "c"},
          "layer": [
            {
              "mark": {"type": "line", "clip": true},
              "encoding": {
                "x": {"field": "E", "type": "quantitative", "scale": {"domain": [0, 13.6], "nice": false}, "axis": {"values": [2, 4, 6, 8, 10, 12], "title": "Energy (eV)"}},
                "y": {"field": "v", "type": "quantitative", "scale": {"domain": [0, 400], "nice": false}, "axis": {"values": [0, 50, 100, 150, 200, 250, 300, 350, 400], "title": "Absorption coefficient α (ω) (10⁴/cm)", "minExtent": 15.5, "maxExtent": 15.5}},
                "color": {"field": "s", "type": "nominal", "scale": {"domain": [0, 30, 60, 90, 120, 150], "range": ["#1f2fe0", "#2a8f2a", "#a020f0", "#cc5522", "#ffbf20", "#000000"]}, "legend": {"title": null, "labelExpr": "datum.label + ' GPa'"}}
              }
            },
            {
              "mark": {"type": "point", "opacity": 0},
              "encoding": {
                "x": {"field": "E", "type": "quantitative", "scale": {"domain": [0, 13.6], "nice": false}, "axis": {"orient": "top", "values": [2, 4, 6, 8, 10, 12], "title": "(c)", "titleX": 4, "titleY": 5.5, "titleAlign": "left", "titleBaseline": "top", "titleAngle": 0, "titleFontWeight": "bold", "titleFontSize": 8.5}},
                "y": {"field": "v", "type": "quantitative", "scale": {"domain": [0, 400], "nice": false}, "axis": {"orient": "right", "values": [0, 50, 100, 150, 200, 250, 300, 350, 400], "title": null}}
              }
            }
          ],
          "resolve": {"axis": {"x": "independent", "y": "independent"}}
        },
        {
          "width": 190, "height": 132, "data": {"name": "d"},
          "layer": [
            {
              "mark": {"type": "line", "clip": true},
              "encoding": {
                "x": {"field": "E", "type": "quantitative", "scale": {"domain": [0, 13.6], "nice": false}, "axis": {"values": [2, 4, 6, 8, 10, 12], "title": "Energy (eV)"}},
                "y": {"field": "v", "type": "quantitative", "scale": {"domain": [0, 3], "nice": false}, "axis": {"values": [0, 0.5, 1, 1.5, 2, 2.5, 3], "format": "~g", "title": "Refractive index n (ω)", "minExtent": 15.5, "maxExtent": 15.5}},
                "color": {"field": "s", "type": "nominal", "scale": {"domain": [0, 30, 60, 90, 120, 150], "range": ["#1f2fe0", "#2a8f2a", "#a020f0", "#cc5522", "#ffbf20", "#000000"]}, "legend": {"title": null, "labelExpr": "datum.label + ' GPa'"}}
              }
            },
            {
              "mark": {"type": "point", "opacity": 0},
              "encoding": {
                "x": {"field": "E", "type": "quantitative", "scale": {"domain": [0, 13.6], "nice": false}, "axis": {"orient": "top", "values": [2, 4, 6, 8, 10, 12], "title": "(d)", "titleX": 4, "titleY": 5.5, "titleAlign": "left", "titleBaseline": "top", "titleAngle": 0, "titleFontWeight": "bold", "titleFontSize": 8.5}},
                "y": {"field": "v", "type": "quantitative", "scale": {"domain": [0, 3], "nice": false}, "axis": {"orient": "right", "values": [0, 0.5, 1, 1.5, 2, 2.5, 3], "title": null}}
              }
            }
          ],
          "resolve": {"axis": {"x": "independent", "y": "independent"}}
        }
      ],
      "spacing": 23.3,
      "resolve": {"scale": {"color": "independent"}, "legend": {"color": "independent"}}
    },
    {
      "hconcat": [
        {
          "width": 188, "height": 132, "data": {"name": "e"},
          "layer": [
            {
              "mark": {"type": "line", "clip": true},
              "encoding": {
                "x": {"field": "E", "type": "quantitative", "scale": {"domain": [0, 13.6], "nice": false}, "axis": {"values": [2, 4, 6, 8, 10, 12], "title": "Energy (eV)"}},
                "y": {"field": "v", "type": "quantitative", "scale": {"domain": [0, 0.8], "nice": false}, "axis": {"values": [0, 0.1, 0.2, 0.3, 0.4, 0.5, 0.6, 0.7, 0.8], "format": "~g", "title": "Optical reflectivity R (ω)", "minExtent": 15.5, "maxExtent": 15.5}},
                "color": {"field": "s", "type": "nominal", "scale": {"domain": [0, 30, 60, 90, 120, 150], "range": ["#1f2fe0", "#2a8f2a", "#a020f0", "#cc5522", "#ffbf20", "#000000"]}, "legend": {"title": null, "labelExpr": "datum.label + ' GPa'"}}
              }
            },
            {
              "mark": {"type": "point", "opacity": 0},
              "encoding": {
                "x": {"field": "E", "type": "quantitative", "scale": {"domain": [0, 13.6], "nice": false}, "axis": {"orient": "top", "values": [2, 4, 6, 8, 10, 12], "title": "(e)", "titleX": 4, "titleY": 5.5, "titleAlign": "left", "titleBaseline": "top", "titleAngle": 0, "titleFontWeight": "bold", "titleFontSize": 8.5}},
                "y": {"field": "v", "type": "quantitative", "scale": {"domain": [0, 0.8], "nice": false}, "axis": {"orient": "right", "values": [0, 0.1, 0.2, 0.3, 0.4, 0.5, 0.6, 0.7, 0.8], "title": null}}
              }
            }
          ],
          "resolve": {"axis": {"x": "independent", "y": "independent"}}
        },
        {
          "width": 180, "height": 132, "data": {"name": "f"},
          "layer": [
            {
              "mark": {"type": "line", "clip": true},
              "encoding": {
                "x": {"field": "E", "type": "quantitative", "scale": {"domain": [0, 13.6], "nice": false}, "axis": {"values": [2, 4, 6, 8, 10, 12], "title": "Energy (eV)"}},
                "y": {"field": "v", "type": "quantitative", "scale": {"domain": [0, 14000], "nice": false}, "axis": {"values": [0, 2000, 4000, 6000, 8000, 10000, 12000, 14000], "format": "d", "title": "Optical conductivity (1/Ohm-cm)", "minExtent": 24.5, "maxExtent": 24.5}},
                "color": {"field": "s", "type": "nominal", "scale": {"domain": [0, 30, 60, 90, 120, 150], "range": ["#1f2fe0", "#2a8f2a", "#a020f0", "#cc5522", "#ffbf20", "#000000"]}, "legend": {"title": null, "labelExpr": "datum.label + ' GPa'"}}
              }
            },
            {
              "mark": {"type": "point", "opacity": 0},
              "encoding": {
                "x": {"field": "E", "type": "quantitative", "scale": {"domain": [0, 13.6], "nice": false}, "axis": {"orient": "top", "values": [2, 4, 6, 8, 10, 12], "title": "(f)", "titleX": 4, "titleY": 5.5, "titleAlign": "left", "titleBaseline": "top", "titleAngle": 0, "titleFontWeight": "bold", "titleFontSize": 8.5}},
                "y": {"field": "v", "type": "quantitative", "scale": {"domain": [0, 14000], "nice": false}, "axis": {"orient": "right", "values": [0, 2000, 4000, 6000, 8000, 10000, 12000, 14000], "title": null}}
              }
            }
          ],
          "resolve": {"axis": {"x": "independent", "y": "independent"}}
        }
      ],
      "spacing": 24.3,
      "resolve": {"scale": {"color": "independent"}, "legend": {"color": "independent"}}
    },
    {
      "width": 189, "height": 132, "data": {"name": "g"},
      "layer": [
        {
          "mark": {"type": "line", "clip": true},
          "encoding": {
            "x": {"field": "E", "type": "quantitative", "scale": {"domain": [0, 13.6], "nice": false}, "axis": {"values": [2, 4, 6, 8, 10, 12], "title": "Energy (eV)"}},
            "y": {"field": "v", "type": "quantitative", "scale": {"domain": [0, 3], "nice": false}, "axis": {"values": [0, 0.5, 1, 1.5, 2, 2.5, 3], "format": "~g", "title": "Extinction coefficient k (ω)", "minExtent": 34.5, "maxExtent": 34.5}},
            "color": {"field": "s", "type": "nominal", "scale": {"domain": [0, 30, 60, 90, 120, 150], "range": ["#1f2fe0", "#2a8f2a", "#a020f0", "#cc5522", "#ffbf20", "#000000"]}, "legend": {"title": null, "labelExpr": "datum.label + ' GPa'"}}
          }
        },
        {
          "mark": {"type": "point", "opacity": 0},
          "encoding": {
            "x": {"field": "E", "type": "quantitative", "scale": {"domain": [0, 13.6], "nice": false}, "axis": {"orient": "top", "values": [2, 4, 6, 8, 10, 12], "title": "(g)", "titleX": 4, "titleY": 5.5, "titleAlign": "left", "titleBaseline": "top", "titleAngle": 0, "titleFontWeight": "bold", "titleFontSize": 8.5}},
            "y": {"field": "v", "type": "quantitative", "scale": {"domain": [0, 3], "nice": false}, "axis": {"orient": "right", "values": [0, 0.5, 1, 1.5, 2, 2.5, 3], "title": null, "minExtent": 22, "maxExtent": 22}}
          }
        }
      ],
      "resolve": {"axis": {"x": "independent", "y": "independent"}}
    }
  ],
  "spacing": 3,
  "center": true,
  "resolve": {"scale": {"color": "independent"}, "legend": {"color": "independent"}}
}
